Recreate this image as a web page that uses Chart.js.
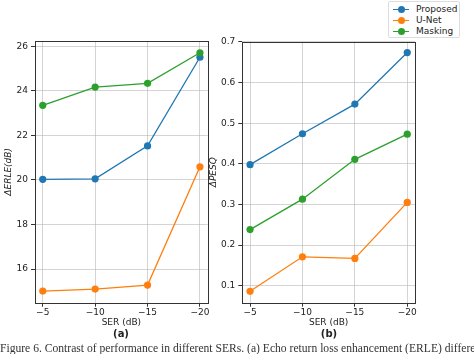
<!DOCTYPE html>
<html>
<head>
<meta charset="utf-8">
<script src="https://cdn.jsdelivr.net/npm/chart.js@4.4.0/dist/chart.umd.min.js"></script>
<style>
  html, body { margin: 0; padding: 0; background: #fff; }
  body { width: 474px; height: 354px; position: relative; overflow: hidden; font-family: "DejaVu Sans", sans-serif; }
  canvas { position: absolute; }
  #chartA { left: 0; top: 30px; }
  #chartB { left: 205px; top: 30px; }
  .panel-tag { position: absolute; top: 328px; font-size: 10px; font-weight: bold; color: #222; transform: translateX(-50%); }
  .legend { position: absolute; left: 388px; top: 1px; width: 70px; height: 35px; border: 1px solid #ddd; border-radius: 2px; background: #fff; font-size: 9px; color: #222; }
  .legend .row { position: absolute; left: 0; height: 11px; line-height: 11px; }
  .legend .line { position: absolute; left: 4px; top: 5px; width: 16px; height: 1.3px; }
  .legend .dot { position: absolute; left: 9px; top: 2px; width: 7px; height: 7px; border-radius: 50%; }
  .legend .lbl { position: absolute; left: 27px; top: 0; white-space: nowrap; }
  .caption { position: absolute; left: 0; top: 342px; white-space: nowrap; font-family: "Liberation Serif", "DejaVu Serif", serif; font-size: 11.6px; color: #333; }
</style>
</head>
<body>
<canvas id="chartA" width="215" height="300"></canvas>
<canvas id="chartB" width="215" height="300"></canvas>
<div class="panel-tag" style="left:121px">(a)</div>
<div class="panel-tag" style="left:329px">(b)</div>
<div class="legend" id="legend"></div>
<div class="caption">Figure 6. Contrast of performance in different SERs. (a) Echo return loss enhancement (ERLE) difference</div>
<script>
// SER levels on the x axis
const serLevels = [-5, -10, -15, -20];

// (a) delta ERLE (dB)
const erleProposed = [20.03, 20.05, 21.53, 25.51];
const erleUNet = [15.01, 15.10, 15.28, 20.59];
const erleMasking = [23.35, 24.17, 24.34, 25.71];
const erleTicks = [16, 18, 20, 22, 24, 26];

// (b) delta PESQ
const pesqProposed = [0.398, 0.474, 0.547, 0.674];
const pesqUNet = [0.086, 0.171, 0.167, 0.305];
const pesqMasking = [0.238, 0.313, 0.411, 0.473];
const pesqTicks = [0.1, 0.2, 0.3, 0.4, 0.5, 0.6, 0.7];

const seriesNames = ['Proposed', 'U-Net', 'Masking'];
const seriesColors = ['#1f77b4', '#ff7f0e', '#2ca02c'];

const tickFont = { family: 'DejaVu Sans', size: 9 };

// draw the full matplotlib-style frame round the plot area
const framePlugin = {
    id: 'frame',
    afterDraw(chart) {
        const a = chart.chartArea;
        const ctx = chart.ctx;
        ctx.save();
        ctx.strokeStyle = '#333';
        ctx.lineWidth = 1;
        ctx.strokeRect(Math.round(a.left) + 0.5, Math.round(a.top) + 0.5,
            Math.round(a.right - a.left), Math.round(a.bottom - a.top));
        ctx.restore();
    }
};

function fmtMinus(v) {
    return v < 0 ? '\u2212' + Math.abs(v) : String(v);
}

function buildChart(id, seriesList, yTicks, yMin, yMax, yTitle, yWidth, pad, yFmt) {
    const ctx = document.getElementById(id);
    const datasets = seriesList.map((vals, i) => ({
        label: seriesNames[i],
        data: serLevels.map((x, j) => ({ x: x, y: vals[j] })),
        borderColor: seriesColors[i],
        backgroundColor: seriesColors[i],
        pointBackgroundColor: seriesColors[i],
        pointBorderWidth: 0,
        pointRadius: 3.6,
        borderWidth: 1.3,
        tension: 0,
        order: 3 - i
    }));

    return new Chart(ctx, {
        type: 'line',
        data: { datasets: datasets },
        options: {
            responsive: false,
            animation: false,
            devicePixelRatio: 1,
            layout: { padding: pad },
            plugins: { legend: { display: false }, tooltip: { enabled: false } },
            scales: {
                x: {
                    type: 'linear',
                    reverse: true,
                    min: -20.74,
                    max: -4.26,
                    afterBuildTicks: s => { s.ticks = serLevels.map(v => ({ value: v })); },
                    afterFit: s => { s.height = 27.3; },
                    ticks: { font: tickFont, color: '#222', padding: 1, maxRotation: 0, callback: v => fmtMinus(v) },
                    grid: { color: 'rgba(176,176,176,0.55)', tickColor: '#333', tickLength: 4 },
                    border: { display: false },
                    title: { display: true, text: 'SER (dB)', font: tickFont, color: '#222', padding: { top: 0, bottom: 2 } }
                },
                y: {
                    type: 'linear',
                    min: yMin,
                    max: yMax,
                    afterBuildTicks: s => { s.ticks = yTicks.map(v => ({ value: v })); },
                    afterFit: s => { s.width = yWidth; },
                    ticks: { font: tickFont, color: '#222', padding: 3, callback: yFmt },
                    grid: { color: 'rgba(176,176,176,0.55)', tickColor: '#333', tickLength: 4 },
                    border: { display: false },
                    title: { display: true, text: yTitle, font: { family: 'DejaVu Sans', size: 9, style: 'italic' }, color: '#222', padding: { top: 3, bottom: 0 } }
                }
            }
        },
        plugins: [framePlugin]
    });
}

buildChart('chartA', [erleProposed, erleUNet, erleMasking], erleTicks, 14.49, 26.24,
    '\u0394ERLE(dB)', 35, { top: 11, right: 7.3, left: 0, bottom: 0 }, v => String(v));

buildChart('chartB', [pesqProposed, pesqUNet, pesqMasking], pesqTicks, 0.058, 0.7007,
    '\u0394PESQ', 37.3, { top: 11.7, right: 5, left: 0, bottom: 0 }, v => v.toFixed(1));

// legend entries (line with marker, like matplotlib)
const legend = document.getElementById('legend');
seriesNames.forEach((name, i) => {
    const row = document.createElement('div');
    row.className = 'row';
    row.style.top = (2 + i * 11) + 'px';
    row.innerHTML = '<div class="line" style="background:' + seriesColors[i] + '"></div>' +
        '<div class="dot" style="background:' + seriesColors[i] + '"></div>' +
        '<div class="lbl">' + name + '</div>';
    legend.appendChild(row);
});
</script>
</body>
</html>
